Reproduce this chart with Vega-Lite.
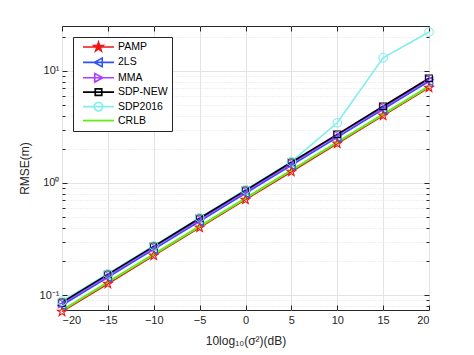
{
  "$schema": "https://vega.github.io/schema/vega-lite/v6.json",
  "width": 367,
  "height": 284,
  "autosize": "none",
  "padding": {"left": 62, "top": 26, "right": 45, "bottom": 45},
  "config": {
    "font": "Liberation Sans",
    "view": {"stroke": "#262626", "strokeWidth": 1},
    "axis": {
      "labelFontSize": 11,
      "labelColor": "#262626",
      "domainColor": "#262626",
      "tickColor": "#262626",
      "titleFontSize": 12,
      "titleFontWeight": "normal",
      "titleColor": "#262626",
      "labelFont": "Liberation Sans",
      "titleFont": "Liberation Sans"
    }
  },
  "data": {
    "values": [
      {"x": -20, "method": "SDP2016", "rmse": 0.088},
      {"x": -15, "method": "SDP2016", "rmse": 0.155},
      {"x": -10, "method": "SDP2016", "rmse": 0.275},
      {"x": -5, "method": "SDP2016", "rmse": 0.49},
      {"x": 0, "method": "SDP2016", "rmse": 0.87},
      {"x": 5, "method": "SDP2016", "rmse": 1.55},
      {"x": 10, "method": "SDP2016", "rmse": 3.45},
      {"x": 15, "method": "SDP2016", "rmse": 13.1},
      {"x": 20, "method": "SDP2016", "rmse": 22.3},
      {"x": -20, "method": "PAMP", "rmse": 0.071},
      {"x": -15, "method": "PAMP", "rmse": 0.126},
      {"x": -10, "method": "PAMP", "rmse": 0.225},
      {"x": -5, "method": "PAMP", "rmse": 0.40},
      {"x": 0, "method": "PAMP", "rmse": 0.71},
      {"x": 5, "method": "PAMP", "rmse": 1.26},
      {"x": 10, "method": "PAMP", "rmse": 2.25},
      {"x": 15, "method": "PAMP", "rmse": 4.0},
      {"x": 20, "method": "PAMP", "rmse": 7.1},
      {"x": -20, "method": "CRLB", "rmse": 0.073},
      {"x": -15, "method": "CRLB", "rmse": 0.130},
      {"x": -10, "method": "CRLB", "rmse": 0.231},
      {"x": -5, "method": "CRLB", "rmse": 0.41},
      {"x": 0, "method": "CRLB", "rmse": 0.73},
      {"x": 5, "method": "CRLB", "rmse": 1.30},
      {"x": 10, "method": "CRLB", "rmse": 2.31},
      {"x": 15, "method": "CRLB", "rmse": 4.1},
      {"x": 20, "method": "CRLB", "rmse": 7.3},
      {"x": -20, "method": "2LS", "rmse": 0.081},
      {"x": -15, "method": "2LS", "rmse": 0.144},
      {"x": -10, "method": "2LS", "rmse": 0.256},
      {"x": -5, "method": "2LS", "rmse": 0.455},
      {"x": 0, "method": "2LS", "rmse": 0.81},
      {"x": 5, "method": "2LS", "rmse": 1.44},
      {"x": 10, "method": "2LS", "rmse": 2.56},
      {"x": 15, "method": "2LS", "rmse": 4.55},
      {"x": 20, "method": "2LS", "rmse": 8.1},
      {"x": -20, "method": "MMA", "rmse": 0.084},
      {"x": -15, "method": "MMA", "rmse": 0.149},
      {"x": -10, "method": "MMA", "rmse": 0.266},
      {"x": -5, "method": "MMA", "rmse": 0.472},
      {"x": 0, "method": "MMA", "rmse": 0.84},
      {"x": 5, "method": "MMA", "rmse": 1.49},
      {"x": 10, "method": "MMA", "rmse": 2.66},
      {"x": 15, "method": "MMA", "rmse": 4.72},
      {"x": 20, "method": "MMA", "rmse": 8.4},
      {"x": -20, "method": "SDP-NEW", "rmse": 0.086},
      {"x": -15, "method": "SDP-NEW", "rmse": 0.153},
      {"x": -10, "method": "SDP-NEW", "rmse": 0.272},
      {"x": -5, "method": "SDP-NEW", "rmse": 0.484},
      {"x": 0, "method": "SDP-NEW", "rmse": 0.86},
      {"x": 5, "method": "SDP-NEW", "rmse": 1.53},
      {"x": 10, "method": "SDP-NEW", "rmse": 2.72},
      {"x": 15, "method": "SDP-NEW", "rmse": 4.84},
      {"x": 20, "method": "SDP-NEW", "rmse": 8.6}
    ]
  },
  "layer": [
    {
      "mark": {"type": "line", "strokeWidth": 1.6},
      "encoding": {
        "x": {
          "field": "x", "type": "quantitative",
          "scale": {"domain": [-20, 20], "nice": false, "zero": false},
          "axis": {
            "values": [-20, -15, -10, -5, 0, 5, 10, 15, 20],
            "title": "10log₁₀(σ²)(dB)",
            "tickSize": -5,
            "labelPadding": 9.5,
            "titlePadding": 10,
            "gridColor": "#e3e3e3",
            "domain": false
          }
        },
        "y": {
          "field": "rmse", "type": "quantitative",
          "scale": {"type": "log", "domain": [0.0735, 25.2], "nice": false},
          "axis": {
            "values": [0.08, 0.09, 0.1, 0.2, 0.3, 0.4, 0.5, 0.6, 0.7, 0.8, 0.9, 1, 2, 3, 4, 5, 6, 7, 8, 9, 10, 20],
            "title": "RMSE(m)",
            "labelExpr": "datum.value == 10 ? '10¹' : datum.value == 1 ? '10⁰' : datum.value == 0.1 ? '10⁻¹' : ''",
            "labelOverlap": false,
            "labelPadding": 8,
            "titlePadding": 8,
            "domain": false,
            "tickSize": {"condition": {"test": "datum.value == 0.1 || datum.value == 1 || datum.value == 10", "value": -5}, "value": -3},
            "gridDash": {"condition": {"test": "datum.value == 0.1 || datum.value == 1 || datum.value == 10", "value": []}, "value": [1, 2]},
            "gridColor": {"condition": {"test": "datum.value == 0.1 || datum.value == 1 || datum.value == 10", "value": "#e3e3e3"}, "value": "#e0e0e0"}
          }
        },
        "color": {
          "field": "method", "type": "nominal",
          "scale": {
            "domain": ["PAMP", "2LS", "MMA", "SDP-NEW", "SDP2016", "CRLB"],
            "range": ["#f01414", "#2f52f5", "#b03cff", "#000000", "#80eeee", "#62ee1a"]
          },
          "legend": {
            "title": null,
            "orient": "top-left",
            "offset": 11,
            "strokeColor": "#262626",
            "fillColor": "#ffffff",
            "padding": 4,
            "rowPadding": -0.6,
            "labelFontSize": 10.5,
            "labelColor": "#000000",
            "labelFont": "Liberation Sans",
            "symbolSize": 100,
            "symbolStrokeWidth": 1.2,
            "labelOffset": 29,
            "encode": {
              "symbols": {
                "update": {
                  "shape": {"signal": "datum.value === 'PAMP' ? 'M0,0H6.2M3.1,-1L3.335,-0.324L4.051,-0.309L3.48,0.124L3.688,0.809L3.1,0.4L2.512,0.809L2.72,0.124L2.149,-0.309L2.865,-0.324Z' : datum.value === '2LS' ? 'M0,0H6.2M2.25,0L3.85,-0.85L3.85,0.85Z' : datum.value === 'MMA' ? 'M0,0H6.2M3.95,0L2.35,-0.85L2.35,0.85Z' : datum.value === 'SDP-NEW' ? 'M0,0H6.2M2.45,-0.65H3.75V0.65H2.45Z' : datum.value === 'SDP2016' ? 'M0,0H6.2M2.25,0A0.85,0.85,0,1,0,3.95,0A0.85,0.85,0,1,0,2.25,0Z' : 'M0,0H6.2'"},
                  "fill": {"signal": "datum.value === 'PAMP' ? '#f01414' : 'transparent'"}
                }
              }
            }
          }
        },
        "strokeWidth": {
          "field": "method", "type": "nominal",
          "scale": {"domain": ["PAMP", "2LS", "MMA", "SDP-NEW", "SDP2016", "CRLB"], "range": [1.5, 1.8, 1.5, 1.8, 1.0, 2.0]},
          "legend": null
        }
      }
    },
    {
      "transform": [{"filter": "datum.method === 'CRLB'"}],
      "mark": {"type": "line", "strokeWidth": 2, "color": "#62ee1a"},
      "encoding": {
        "x": {"field": "x", "type": "quantitative", "axis": null},
        "y": {"field": "rmse", "type": "quantitative", "scale": {"type": "log"}, "axis": null}
      }
    },
    {
      "transform": [{"filter": "datum.method === 'PAMP'"}],
      "mark": {"type": "point", "filled": false, "strokeWidth": 1.1, "size": 90, "color": "#f01414", "opacity": 1,
               "shape": "M0,-1L0.235,-0.324L0.951,-0.309L0.38,0.124L0.588,0.809L0,0.4L-0.588,0.809L-0.38,0.124L-0.951,-0.309L-0.235,-0.324Z"},
      "encoding": {
        "x": {"field": "x", "type": "quantitative", "axis": null},
        "y": {"field": "rmse", "type": "quantitative", "scale": {"type": "log"}, "axis": null}
      }
    },
    {
      "transform": [{"filter": "datum.method === '2LS'"}],
      "mark": {"type": "point", "filled": false, "strokeWidth": 1.1, "size": 90, "color": "#2f52f5", "opacity": 1,
               "shape": "M-0.9,0L0.8,-0.9L0.8,0.9Z"},
      "encoding": {
        "x": {"field": "x", "type": "quantitative", "axis": null},
        "y": {"field": "rmse", "type": "quantitative", "scale": {"type": "log"}, "axis": null}
      }
    },
    {
      "transform": [{"filter": "datum.method === 'MMA'"}],
      "mark": {"type": "point", "filled": false, "strokeWidth": 1.1, "size": 90, "color": "#b03cff", "opacity": 1,
               "shape": "M0.9,0L-0.8,-0.9L-0.8,0.9Z"},
      "encoding": {
        "x": {"field": "x", "type": "quantitative", "axis": null},
        "y": {"field": "rmse", "type": "quantitative", "scale": {"type": "log"}, "axis": null}
      }
    },
    {
      "transform": [{"filter": "datum.method === 'SDP-NEW'"}],
      "mark": {"type": "point", "filled": false, "strokeWidth": 1.1, "size": 90, "color": "#000000", "opacity": 1,
               "shape": "M-0.7,-0.7H0.7V0.7H-0.7Z"},
      "encoding": {
        "x": {"field": "x", "type": "quantitative", "axis": null},
        "y": {"field": "rmse", "type": "quantitative", "scale": {"type": "log"}, "axis": null}
      }
    },
    {
      "transform": [{"filter": "datum.method === 'SDP2016'"}],
      "mark": {"type": "point", "filled": false, "strokeWidth": 1.1, "size": 90, "color": "#80eeee", "opacity": 1,
               "shape": "M-0.9,0A0.9,0.9,0,1,0,0.9,0A0.9,0.9,0,1,0,-0.9,0Z"},
      "encoding": {
        "x": {"field": "x", "type": "quantitative", "axis": null},
        "y": {"field": "rmse", "type": "quantitative", "scale": {"type": "log"}, "axis": null}
      }
    },
    {
      "mark": {"type": "point", "opacity": 0},
      "encoding": {
        "x": {
          "field": "x", "type": "quantitative",
          "axis": {"orient": "top", "values": [-20, -15, -10, -5, 0, 5, 10, 15, 20], "labels": false, "title": null, "grid": false, "tickSize": -5, "domain": false}
        },
        "y": {
          "field": "rmse", "type": "quantitative", "scale": {"type": "log"},
          "axis": {
            "orient": "right",
            "values": [0.08, 0.09, 0.1, 0.2, 0.3, 0.4, 0.5, 0.6, 0.7, 0.8, 0.9, 1, 2, 3, 4, 5, 6, 7, 8, 9, 10, 20],
            "labels": false, "title": null, "grid": false, "domain": false,
            "tickSize": {"condition": {"test": "datum.value == 0.1 || datum.value == 1 || datum.value == 10", "value": -5}, "value": -3}
          }
        }
      }
    }
  ],
  "resolve": {"axis": {"x": "independent", "y": "independent"}}
}
